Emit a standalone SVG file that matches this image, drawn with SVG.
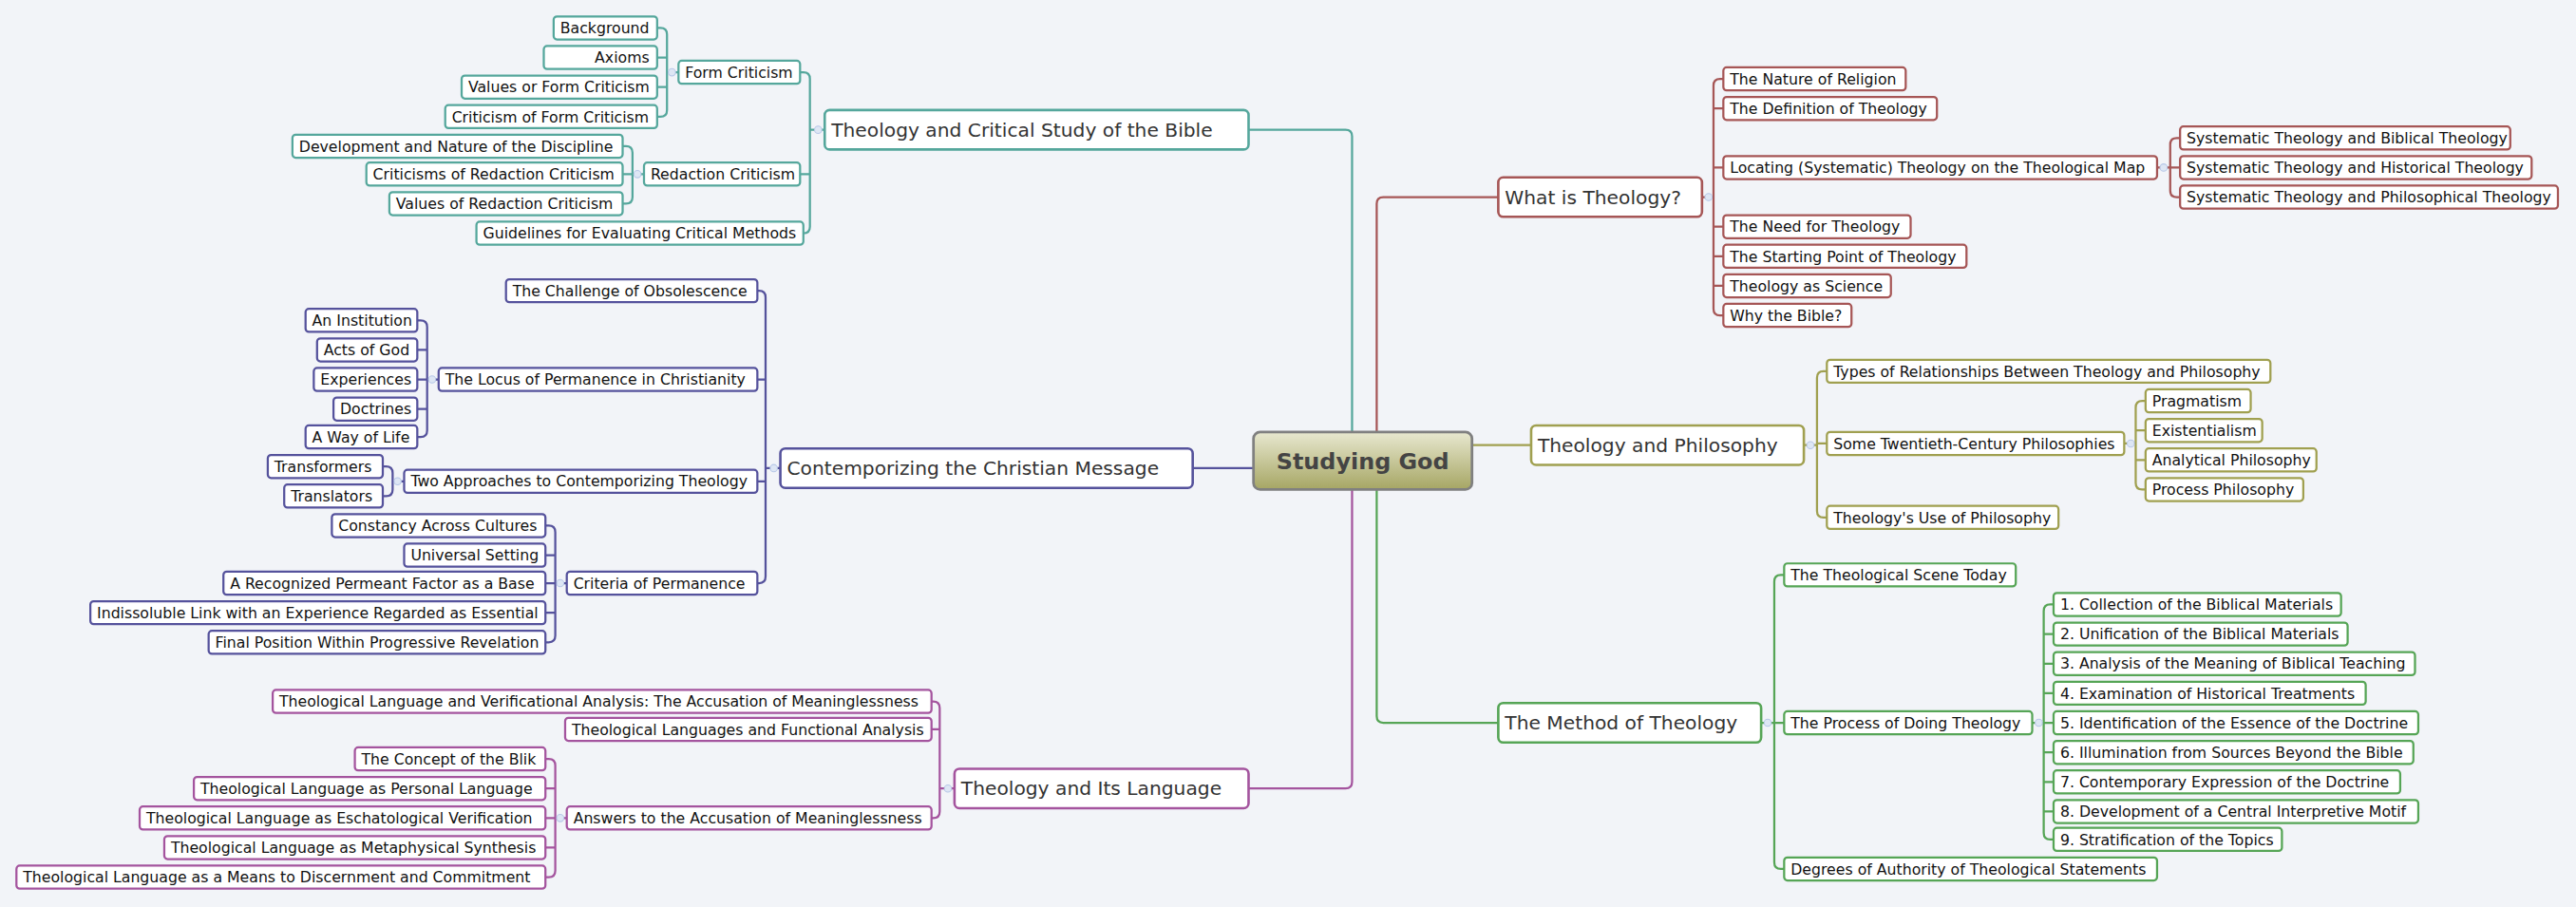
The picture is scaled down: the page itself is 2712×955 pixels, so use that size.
<svg xmlns="http://www.w3.org/2000/svg" width="2712" height="955" viewBox="0 0 2712 955">
<defs>
<linearGradient id="cg" x1="0" y1="0" x2="0" y2="1"><stop offset="0" stop-color="#e8e8d0"/><stop offset="1" stop-color="#a6a664"/></linearGradient>
<style>
text{font-family:"DejaVu Sans",sans-serif;fill:#111;font-size:9.1px}
.l1 text{font-size:11.7px;fill:#333}
rect{fill:#fff;stroke-width:1.3}
.l1 rect{stroke-width:1.5}
path{fill:none;stroke-width:1.3}
.r rect,.r path{stroke:#a65656}.o rect,.o path{stroke:#a0a050}.g rect,.g path{stroke:#56a556}
.t rect,.t path{stroke:#55a79c}.p rect,.p path{stroke:#55529c}.m rect,.m path{stroke:#a4549e}
circle{fill:#dde6f4;stroke:#b8c8e8;stroke-width:0.6}
</style>
</defs>
<rect x="0" y="0" width="2712" height="955" style="fill:#f2f4f8;stroke:none"/>
<g transform="scale(1.72959)">
<g id="connectors">
<path class="r" d="M838,263V124Q838,120 842,120H912" style="stroke:#a65656"/>
<path d="M823,263V83Q823,79 819,79H760" style="stroke:#55a79c"/>
<path d="M838,298V436Q838,440 842,440H912" style="stroke:#56a556"/>
<path d="M823,298V476Q823,480 819,480H760" style="stroke:#a4549e"/>
<path d="M763,285H726" style="stroke:#55529c"/>
<path d="M896,271H932" style="stroke:#a0a050"/>
<g class="r">
<path d="M1036,120H1043M1049,48H1047Q1043,48 1043,52V188Q1043,192 1047,192H1049M1043,66H1049M1043,102H1049M1043,138H1049M1043,156H1049M1043,174H1049"/>
<path d="M1313,102H1321M1327,84H1325Q1321,84 1321,88V116Q1321,120 1325,120H1327M1321,102H1327"/>
</g>
<g class="o">
<path d="M1098,271H1106M1112,226H1110Q1106,226 1106,230V311Q1106,315 1110,315H1112M1106,270H1112"/>
<path d="M1293,270H1300M1306,244H1304Q1300,244 1300,248V294Q1300,298 1304,298H1306M1300,262H1306M1300,280H1306"/>
</g>
<g class="g">
<path d="M1072,440H1080M1086,350H1084Q1080,350 1080,354V525Q1080,529 1084,529H1086M1080,440H1086"/>
<path d="M1237,440H1244M1250,368H1248Q1244,368 1244,372V507Q1244,511 1248,511H1250M1244,386H1250M1244,404H1250M1244,422H1250M1244,440H1250M1244,458H1250M1244,476H1250M1244,494H1250"/>
</g>
<g class="t">
<path d="M502,79H493M487,44H489Q493,44 493,48V138Q493,142 489,142H487M493,106H487"/>
<path d="M413,44H406M400,17H402Q406,17 406,21V67Q406,71 402,71H400M406,35H400M406,53H400"/>
<path d="M392,106H385M379,89H381Q385,89 385,93V120Q385,124 381,124H379M385,106H379"/>
</g>
<g class="p">
<path d="M475,285H466M461,177H462Q466,177 466,181V351Q466,355 462,355H461M466,231H461M466,293H461"/>
<path d="M267,231H260M254,195H256Q260,195 260,199V262Q260,266 256,266H254M260,213H254M260,231H254M260,249H254"/>
<path d="M246,293H239M233,284H235Q239,284 239,288V298Q239,302 235,302H233"/>
<path d="M345,355H338M332,320H334Q338,320 338,324V387Q338,391 334,391H332M338,338H332M338,355H332M338,373H332"/>
</g>
<g class="m">
<path d="M581,480H572M567,427H568Q572,427 572,431V494Q572,498 568,498H567M572,444H567"/>
<path d="M345,498H338M332,462H334Q338,462 338,466V530Q338,534 334,534H332M338,480H332M338,498H332M338,516H332"/>
</g>
<circle cx="1040" cy="120" r="2.2"/><circle cx="1317" cy="102" r="2.2"/><circle cx="1102" cy="271" r="2.2"/><circle cx="1297" cy="270" r="2.2"/>
<circle cx="1076" cy="440" r="2.2"/><circle cx="1241" cy="440" r="2.2"/><circle cx="498" cy="79" r="2.2"/><circle cx="409" cy="44" r="2.2"/><circle cx="388" cy="106" r="2.2"/>
<circle cx="471" cy="285" r="2.2"/><circle cx="263" cy="231" r="2.2"/><circle cx="242" cy="293" r="2.2"/><circle cx="341" cy="355" r="2.2"/><circle cx="577" cy="480" r="2.2"/><circle cx="341" cy="498" r="2.2"/>
</g>
<g id="center"><rect x="763" y="263" width="133" height="35" rx="4" style="fill:url(#cg);stroke:#808080;stroke-width:1.6"/><text x="829.5" y="285.8" text-anchor="middle" style="font-size:13.8px;font-weight:bold;fill:#444">Studying God</text></g>

<g id="n-what" class="r l1"><rect x="912" y="108" width="124" height="24" rx="3"/><text x="916" y="124.2">What is Theology?</text></g>
<g class="r">
<g id="r1"><rect x="1049" y="41" width="111" height="14" rx="2"/><text x="1053" y="51.3">The Nature of Religion</text></g>
<g id="r2"><rect x="1049" y="59" width="130" height="14" rx="2"/><text x="1053" y="69.3">The Definition of Theology</text></g>
<g id="r3"><rect x="1049" y="95" width="264" height="14" rx="2"/><text x="1053" y="105.3">Locating (Systematic) Theology on the Theological Map</text></g>
<g id="r4"><rect x="1049" y="131" width="114" height="14" rx="2"/><text x="1053" y="141.3">The Need for Theology</text></g>
<g id="r5"><rect x="1049" y="149" width="148" height="14" rx="2"/><text x="1053" y="159.3">The Starting Point of Theology</text></g>
<g id="r6"><rect x="1049" y="167" width="102" height="14" rx="2"/><text x="1053" y="177.3">Theology as Science</text></g>
<g id="r7"><rect x="1049" y="185" width="78" height="14" rx="2"/><text x="1053" y="195.3">Why the Bible?</text></g>
<g id="r31"><rect x="1327" y="77" width="201" height="14" rx="2"/><text x="1331" y="87.3">Systematic Theology and Biblical Theology</text></g>
<g id="r32"><rect x="1327" y="95" width="214" height="14" rx="2"/><text x="1331" y="105.3">Systematic Theology and Historical Theology</text></g>
<g id="r33"><rect x="1327" y="113" width="230" height="14" rx="2"/><text x="1331" y="123.3">Systematic Theology and Philosophical Theology</text></g>
</g>

<g id="n-phil" class="o l1"><rect x="932" y="259" width="166" height="24" rx="3"/><text x="936" y="275.2">Theology and Philosophy</text></g>
<g class="o">
<g id="o1"><rect x="1112" y="219" width="270" height="14" rx="2"/><text x="1116" y="229.3">Types of Relationships Between Theology and Philosophy</text></g>
<g id="o2"><rect x="1112" y="263" width="181" height="14" rx="2"/><text x="1116" y="273.3">Some Twentieth-Century Philosophies</text></g>
<g id="o3"><rect x="1112" y="308" width="141" height="14" rx="2"/><text x="1116" y="318.3">Theology's Use of Philosophy</text></g>
<g id="o21"><rect x="1306" y="237" width="64" height="14" rx="2"/><text x="1310" y="247.3">Pragmatism</text></g>
<g id="o22"><rect x="1306" y="255" width="71" height="14" rx="2"/><text x="1310" y="265.3">Existentialism</text></g>
<g id="o23"><rect x="1306" y="273" width="104" height="14" rx="2"/><text x="1310" y="283.3">Analytical Philosophy</text></g>
<g id="o24"><rect x="1306" y="291" width="96" height="14" rx="2"/><text x="1310" y="301.3">Process Philosophy</text></g>
</g>

<g id="n-method" class="g l1"><rect x="912" y="428" width="160" height="24" rx="3"/><text x="916" y="444.2">The Method of Theology</text></g>
<g class="g">
<g id="g1"><rect x="1086" y="343" width="141" height="14" rx="2"/><text x="1090" y="353.3">The Theological Scene Today</text></g>
<g id="g2"><rect x="1086" y="433" width="151" height="14" rx="2"/><text x="1090" y="443.3">The Process of Doing Theology</text></g>
<g id="g3"><rect x="1086" y="522" width="227" height="14" rx="2"/><text x="1090" y="532.3">Degrees of Authority of Theological Statements</text></g>
<g id="g21"><rect x="1250" y="361" width="175" height="14" rx="2"/><text x="1254" y="371.3">1. Collection of the Biblical Materials</text></g>
<g id="g22"><rect x="1250" y="379" width="179" height="14" rx="2"/><text x="1254" y="389.3">2. Unification of the Biblical Materials</text></g>
<g id="g23"><rect x="1250" y="397" width="220" height="14" rx="2"/><text x="1254" y="407.3">3. Analysis of the Meaning of Biblical Teaching</text></g>
<g id="g24"><rect x="1250" y="415" width="190" height="14" rx="2"/><text x="1254" y="425.3">4. Examination of Historical Treatments</text></g>
<g id="g25"><rect x="1250" y="433" width="222" height="14" rx="2"/><text x="1254" y="443.3">5. Identification of the Essence of the Doctrine</text></g>
<g id="g26"><rect x="1250" y="451" width="219" height="14" rx="2"/><text x="1254" y="461.3">6. Illumination from Sources Beyond the Bible</text></g>
<g id="g27"><rect x="1250" y="469" width="211" height="14" rx="2"/><text x="1254" y="479.3">7. Contemporary Expression of the Doctrine</text></g>
<g id="g28"><rect x="1250" y="487" width="222" height="14" rx="2"/><text x="1254" y="497.3">8. Development of a Central Interpretive Motif</text></g>
<g id="g29"><rect x="1250" y="504" width="139" height="14" rx="2"/><text x="1254" y="514.3">9. Stratification of the Topics</text></g>
</g>

<g id="n-critical" class="t l1"><rect x="502" y="67" width="258" height="24" rx="3"/><text x="506" y="83.2">Theology and Critical Study of the Bible</text></g>
<g class="t">
<g id="t1"><rect x="413" y="37" width="74" height="14" rx="2"/><text x="417" y="47.3">Form Criticism</text></g>
<g id="t2"><rect x="392" y="99" width="95" height="14" rx="2"/><text x="396" y="109.3">Redaction Criticism</text></g>
<g id="t3"><rect x="290" y="135" width="199" height="14" rx="2"/><text x="294" y="145.3">Guidelines for Evaluating Critical Methods</text></g>
<g id="t11"><rect x="337" y="10" width="63" height="14" rx="2"/><text x="341" y="20.3">Background</text></g>
<g id="t12"><rect x="331" y="28" width="69" height="14" rx="2"/><text x="362" y="38.3">Axioms</text></g>
<g id="t13"><rect x="281" y="46" width="119" height="14" rx="2"/><text x="285" y="56.3">Values or Form Criticism</text></g>
<g id="t14"><rect x="271" y="64" width="129" height="14" rx="2"/><text x="275" y="74.3">Criticism of Form Criticism</text></g>
<g id="t21"><rect x="178" y="82" width="201" height="14" rx="2"/><text x="182" y="92.3">Development and Nature of the Discipline</text></g>
<g id="t22"><rect x="223" y="99" width="156" height="14" rx="2"/><text x="227" y="109.3">Criticisms of Redaction Criticism</text></g>
<g id="t23"><rect x="237" y="117" width="142" height="14" rx="2"/><text x="241" y="127.3">Values of Redaction Criticism</text></g>
</g>

<g id="n-contemp" class="p l1"><rect x="475" y="273" width="251" height="24" rx="3"/><text x="479" y="289.2">Contemporizing the Christian Message</text></g>
<g class="p">
<g id="p1"><rect x="308" y="170" width="153" height="14" rx="2"/><text x="312" y="180.3">The Challenge of Obsolescence</text></g>
<g id="p2"><rect x="267" y="224" width="194" height="14" rx="2"/><text x="271" y="234.3">The Locus of Permanence in Christianity</text></g>
<g id="p3"><rect x="246" y="286" width="215" height="14" rx="2"/><text x="250" y="296.3">Two Approaches to Contemporizing Theology</text></g>
<g id="p4"><rect x="345" y="348" width="116" height="14" rx="2"/><text x="349" y="358.3">Criteria of Permanence</text></g>
<g id="p21"><rect x="186" y="188" width="68" height="14" rx="2"/><text x="190" y="198.3">An Institution</text></g>
<g id="p22"><rect x="193" y="206" width="61" height="14" rx="2"/><text x="197" y="216.3">Acts of God</text></g>
<g id="p23"><rect x="191" y="224" width="63" height="14" rx="2"/><text x="195" y="234.3">Experiences</text></g>
<g id="p24"><rect x="203" y="242" width="51" height="14" rx="2"/><text x="207" y="252.3">Doctrines</text></g>
<g id="p25"><rect x="186" y="259" width="68" height="14" rx="2"/><text x="190" y="269.3">A Way of Life</text></g>
<g id="p31"><rect x="163" y="277" width="70" height="14" rx="2"/><text x="167" y="287.3">Transformers</text></g>
<g id="p32"><rect x="173" y="295" width="60" height="14" rx="2"/><text x="177" y="305.3">Translators</text></g>
<g id="p41"><rect x="202" y="313" width="130" height="14" rx="2"/><text x="206" y="323.3">Constancy Across Cultures</text></g>
<g id="p42"><rect x="246" y="331" width="86" height="14" rx="2"/><text x="250" y="341.3">Universal Setting</text></g>
<g id="p43"><rect x="136" y="348" width="196" height="14" rx="2"/><text x="140" y="358.3">A Recognized Permeant Factor as a Base</text></g>
<g id="p44"><rect x="55" y="366" width="277" height="14" rx="2"/><text x="59" y="376.3">Indissoluble Link with an Experience Regarded as Essential</text></g>
<g id="p45"><rect x="127" y="384" width="205" height="14" rx="2"/><text x="131" y="394.3">Final Position Within Progressive Revelation</text></g>
</g>

<g id="n-lang" class="m l1"><rect x="581" y="468" width="179" height="24" rx="3"/><text x="585" y="484.2">Theology and Its Language</text></g>
<g class="m">
<g id="m1"><rect x="166" y="420" width="401" height="14" rx="2"/><text x="170" y="430.3">Theological Language and Verificational Analysis: The Accusation of Meaninglessness</text></g>
<g id="m2"><rect x="344" y="437" width="223" height="14" rx="2"/><text x="348" y="447.3">Theological Languages and Functional Analysis</text></g>
<g id="m3"><rect x="345" y="491" width="222" height="14" rx="2"/><text x="349" y="501.3">Answers to the Accusation of Meaninglessness</text></g>
<g id="m31"><rect x="216" y="455" width="116" height="14" rx="2"/><text x="220" y="465.3">The Concept of the Blik</text></g>
<g id="m32"><rect x="118" y="473" width="214" height="14" rx="2"/><text x="122" y="483.3">Theological Language as Personal Language</text></g>
<g id="m33"><rect x="85" y="491" width="247" height="14" rx="2"/><text x="89" y="501.3">Theological Language as Eschatological Verification</text></g>
<g id="m34"><rect x="100" y="509" width="232" height="14" rx="2"/><text x="104" y="519.3">Theological Language as Metaphysical Synthesis</text></g>
<g id="m35"><rect x="10" y="527" width="322" height="14" rx="2"/><text x="14" y="537.3">Theological Language as a Means to Discernment and Commitment</text></g>
</g>
</g>
</svg>
